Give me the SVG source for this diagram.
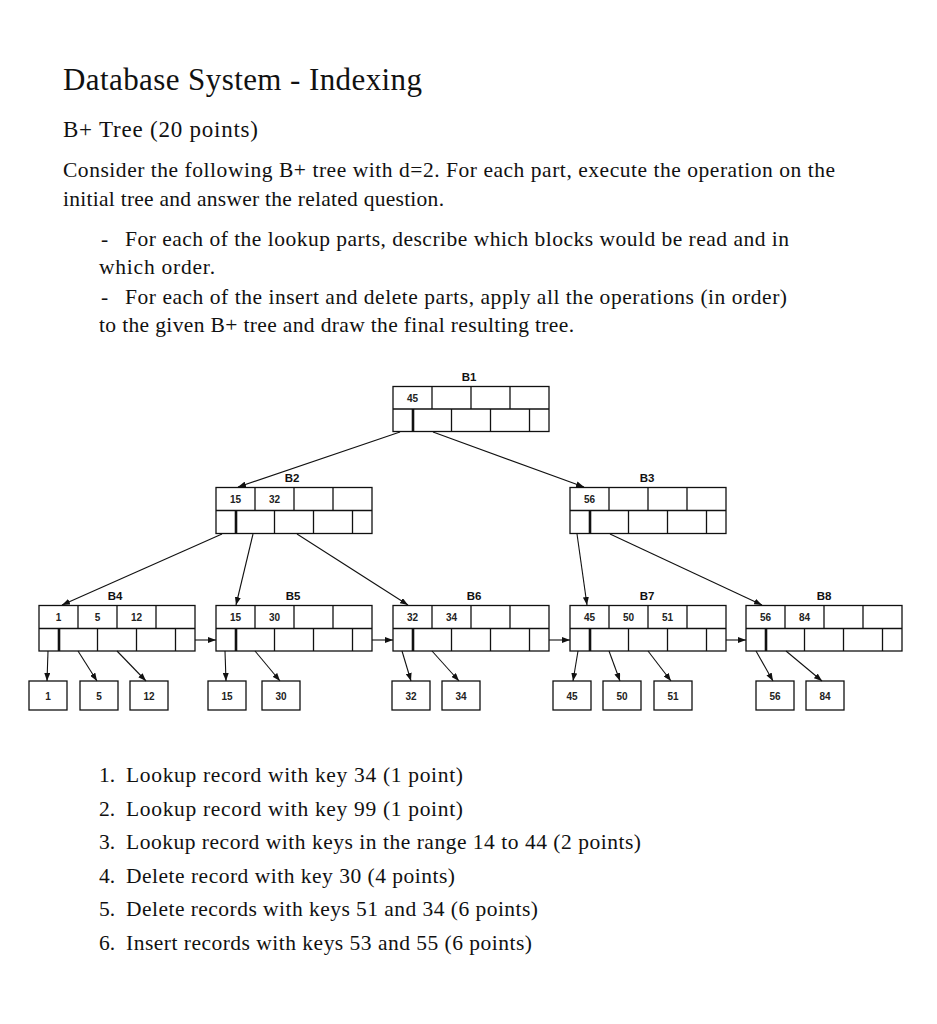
<svg xmlns="http://www.w3.org/2000/svg" width="937" height="1024" viewBox="0 0 937 1024">
<style>
.t{font-family:"Liberation Serif","Times New Roman",serif;fill:#111}
.h1{font-size:31px}
.h2{font-size:23px}
.p{font-size:21.5px}
.node rect{fill:#fff;stroke:#111;stroke-width:1.3}
.node line{stroke:#111;stroke-width:1.3}
.node line.th{stroke-width:2.6}
.key{font-family:"Liberation Sans",Arial,sans-serif;font-weight:bold;font-size:10px;text-anchor:middle;fill:#222}
.lbl{font-family:"Liberation Sans",Arial,sans-serif;font-weight:bold;font-size:11.5px;text-anchor:middle;fill:#111}
.rec rect{fill:#fff;stroke:#111;stroke-width:1.3}
#connectors line{stroke:#111;stroke-width:1.1;marker-end:url(#ah)}
</style>
<defs>
<marker id="ah" markerUnits="userSpaceOnUse" markerWidth="8" markerHeight="6" refX="8" refY="3" orient="auto">
<path d="M0,0 L8,3 L0,6 z" fill="#111"/>
</marker>
</defs>
<rect width="937" height="1024" fill="#fff"/>

<g id="text">
<text class="t h1" x="63" y="90" textLength="359">Database System - Indexing</text>
<text class="t h2" x="63" y="137" textLength="195">B+ Tree (20 points)</text>
<text class="t p" x="63" y="177" textLength="772">Consider the following B+ tree with d=2. For each part, execute the operation on the</text>
<text class="t p" x="63" y="206" textLength="381">initial tree and answer the related question.</text>
<text class="t p" x="101" y="246">-</text>
<text class="t p" x="125" y="246" textLength="664">For each of the lookup parts, describe which blocks would be read and in</text>
<text class="t p" x="99" y="274" textLength="116">which order.</text>
<text class="t p" x="101" y="304">-</text>
<text class="t p" x="125" y="304" textLength="662">For each of the insert and delete parts, apply all the operations (in order)</text>
<text class="t p" x="99" y="332" textLength="475">to the given B+ tree and draw the final resulting tree.</text>
<text class="t p" x="99" y="782">1.</text>
<text class="t p" x="126" y="782" textLength="337">Lookup record with key 34 (1 point)</text>
<text class="t p" x="99" y="816">2.</text>
<text class="t p" x="126" y="816" textLength="337">Lookup record with key 99 (1 point)</text>
<text class="t p" x="99" y="849">3.</text>
<text class="t p" x="126" y="849" textLength="515">Lookup record with keys in the range 14 to 44 (2 points)</text>
<text class="t p" x="99" y="883">4.</text>
<text class="t p" x="126" y="883" textLength="329">Delete record with key 30 (4 points)</text>
<text class="t p" x="99" y="916">5.</text>
<text class="t p" x="126" y="916" textLength="412">Delete records with keys 51 and 34 (6 points)</text>
<text class="t p" x="99" y="950">6.</text>
<text class="t p" x="126" y="950" textLength="406">Insert records with keys 53 and 55 (6 points)</text>
</g>

<g id="B1" class="node">
<text class="lbl" x="469" y="381">B1</text>
<rect x="393" y="386.5" width="156" height="45"/>
<line x1="393" y1="409" x2="549" y2="409"/>
<line x1="432" y1="386.5" x2="432" y2="409"/><line x1="471" y1="386.5" x2="471" y2="409"/><line x1="510" y1="386.5" x2="510" y2="409"/>
<line class="th" x1="413" y1="409" x2="413" y2="431.5"/><line x1="451.5" y1="409" x2="451.5" y2="431.5"/><line x1="490.5" y1="409" x2="490.5" y2="431.5"/><line x1="529.5" y1="409" x2="529.5" y2="431.5"/>
<text class="key" x="412.5" y="401.5">45</text>
</g>

<g id="B2" class="node">
<text class="lbl" x="292" y="482">B2</text>
<rect x="216" y="487.5" width="156" height="46"/>
<line x1="216" y1="510.5" x2="372" y2="510.5"/>
<line x1="255" y1="487.5" x2="255" y2="510.5"/><line x1="294" y1="487.5" x2="294" y2="510.5"/><line x1="333" y1="487.5" x2="333" y2="510.5"/>
<line class="th" x1="236" y1="510.5" x2="236" y2="533.5"/><line x1="274.5" y1="510.5" x2="274.5" y2="533.5"/><line x1="313.5" y1="510.5" x2="313.5" y2="533.5"/><line x1="352.5" y1="510.5" x2="352.5" y2="533.5"/>
<text class="key" x="235.5" y="503">15</text><text class="key" x="274.5" y="503">32</text>
</g>

<g id="B3" class="node">
<text class="lbl" x="647" y="482">B3</text>
<rect x="570" y="487.5" width="156" height="46"/>
<line x1="570" y1="510.5" x2="726" y2="510.5"/>
<line x1="609" y1="487.5" x2="609" y2="510.5"/><line x1="648" y1="487.5" x2="648" y2="510.5"/><line x1="687" y1="487.5" x2="687" y2="510.5"/>
<line class="th" x1="590" y1="510.5" x2="590" y2="533.5"/><line x1="628.5" y1="510.5" x2="628.5" y2="533.5"/><line x1="667.5" y1="510.5" x2="667.5" y2="533.5"/><line x1="706.5" y1="510.5" x2="706.5" y2="533.5"/>
<text class="key" x="589.5" y="503">56</text>
</g>

<g id="B4" class="node">
<text class="lbl" x="115" y="600">B4</text>
<rect x="39" y="605.5" width="156" height="45.5"/>
<line x1="39" y1="628.5" x2="195" y2="628.5"/>
<line x1="78" y1="605.5" x2="78" y2="628.5"/><line x1="117" y1="605.5" x2="117" y2="628.5"/><line x1="156" y1="605.5" x2="156" y2="628.5"/>
<line class="th" x1="59" y1="628.5" x2="59" y2="651"/><line x1="97.5" y1="628.5" x2="97.5" y2="651"/><line x1="136.5" y1="628.5" x2="136.5" y2="651"/><line x1="175.5" y1="628.5" x2="175.5" y2="651"/>
<text class="key" x="58.5" y="621">1</text><text class="key" x="97.5" y="621">5</text><text class="key" x="136.5" y="621">12</text>
</g>

<g id="B5" class="node">
<text class="lbl" x="293" y="600">B5</text>
<rect x="216" y="605.5" width="156" height="45.5"/>
<line x1="216" y1="628.5" x2="372" y2="628.5"/>
<line x1="255" y1="605.5" x2="255" y2="628.5"/><line x1="294" y1="605.5" x2="294" y2="628.5"/><line x1="333" y1="605.5" x2="333" y2="628.5"/>
<line class="th" x1="236" y1="628.5" x2="236" y2="651"/><line x1="274.5" y1="628.5" x2="274.5" y2="651"/><line x1="313.5" y1="628.5" x2="313.5" y2="651"/><line x1="352.5" y1="628.5" x2="352.5" y2="651"/>
<text class="key" x="235.5" y="621">15</text><text class="key" x="274.5" y="621">30</text>
</g>

<g id="B6" class="node">
<text class="lbl" x="474" y="600">B6</text>
<rect x="393" y="605.5" width="156" height="45.5"/>
<line x1="393" y1="628.5" x2="549" y2="628.5"/>
<line x1="432" y1="605.5" x2="432" y2="628.5"/><line x1="471" y1="605.5" x2="471" y2="628.5"/><line x1="510" y1="605.5" x2="510" y2="628.5"/>
<line class="th" x1="413" y1="628.5" x2="413" y2="651"/><line x1="451.5" y1="628.5" x2="451.5" y2="651"/><line x1="490.5" y1="628.5" x2="490.5" y2="651"/><line x1="529.5" y1="628.5" x2="529.5" y2="651"/>
<text class="key" x="412.5" y="621">32</text><text class="key" x="451.5" y="621">34</text>
</g>

<g id="B7" class="node">
<text class="lbl" x="647" y="600">B7</text>
<rect x="570" y="605.5" width="156" height="45.5"/>
<line x1="570" y1="628.5" x2="726" y2="628.5"/>
<line x1="609" y1="605.5" x2="609" y2="628.5"/><line x1="648" y1="605.5" x2="648" y2="628.5"/><line x1="687" y1="605.5" x2="687" y2="628.5"/>
<line class="th" x1="590" y1="628.5" x2="590" y2="651"/><line x1="628.5" y1="628.5" x2="628.5" y2="651"/><line x1="667.5" y1="628.5" x2="667.5" y2="651"/><line x1="706.5" y1="628.5" x2="706.5" y2="651"/>
<text class="key" x="589.5" y="621">45</text><text class="key" x="628.5" y="621">50</text><text class="key" x="667.5" y="621">51</text>
</g>

<g id="B8" class="node">
<text class="lbl" x="824" y="600">B8</text>
<rect x="746" y="605.5" width="156" height="45.5"/>
<line x1="746" y1="628.5" x2="902" y2="628.5"/>
<line x1="785" y1="605.5" x2="785" y2="628.5"/><line x1="824" y1="605.5" x2="824" y2="628.5"/><line x1="863" y1="605.5" x2="863" y2="628.5"/>
<line class="th" x1="766" y1="628.5" x2="766" y2="651"/><line x1="804.5" y1="628.5" x2="804.5" y2="651"/><line x1="843.5" y1="628.5" x2="843.5" y2="651"/><line x1="882.5" y1="628.5" x2="882.5" y2="651"/>
<text class="key" x="765.5" y="621">56</text><text class="key" x="804.5" y="621">84</text>
</g>

<g id="records">
<g id="R1" class="rec"><rect x="29" y="681" width="38" height="29"/><text class="key" x="48" y="699.5">1</text></g>
<g id="R5" class="rec"><rect x="80" y="681" width="38" height="29"/><text class="key" x="99" y="699.5">5</text></g>
<g id="R12" class="rec"><rect x="130" y="681" width="38" height="29"/><text class="key" x="149" y="699.5">12</text></g>
<g id="R15" class="rec"><rect x="208" y="681" width="38" height="29"/><text class="key" x="227" y="699.5">15</text></g>
<g id="R30" class="rec"><rect x="262" y="681" width="38" height="29"/><text class="key" x="281" y="699.5">30</text></g>
<g id="R32" class="rec"><rect x="392" y="681" width="38" height="29"/><text class="key" x="411" y="699.5">32</text></g>
<g id="R34" class="rec"><rect x="442" y="681" width="38" height="29"/><text class="key" x="461" y="699.5">34</text></g>
<g id="R45" class="rec"><rect x="553" y="681" width="38" height="29"/><text class="key" x="572" y="699.5">45</text></g>
<g id="R50" class="rec"><rect x="603" y="681" width="38" height="29"/><text class="key" x="622" y="699.5">50</text></g>
<g id="R51" class="rec"><rect x="654" y="681" width="38" height="29"/><text class="key" x="673" y="699.5">51</text></g>
<g id="R56" class="rec"><rect x="756" y="681" width="38" height="29"/><text class="key" x="775" y="699.5">56</text></g>
<g id="R84" class="rec"><rect x="806" y="681" width="38" height="29"/><text class="key" x="825" y="699.5">84</text></g>
</g>

<g id="connectors">
<line x1="400" y1="432" x2="238" y2="487"/>
<line x1="433" y1="432" x2="584" y2="487"/>
<line x1="222" y1="534" x2="62" y2="605"/>
<line x1="253" y1="534" x2="236" y2="605"/>
<line x1="297" y1="534" x2="408" y2="605"/>
<line x1="577" y1="534" x2="587" y2="605"/>
<line x1="610" y1="534" x2="762" y2="605"/>
<line x1="195" y1="640" x2="216" y2="640"/>
<line x1="372" y1="640" x2="393" y2="640"/>
<line x1="549" y1="640" x2="570" y2="640"/>
<line x1="726" y1="640" x2="746" y2="640"/>
<line x1="48" y1="651" x2="47" y2="681"/>
<line x1="78" y1="651" x2="97" y2="681"/>
<line x1="117" y1="651" x2="146" y2="681"/>
<line x1="225" y1="651" x2="226" y2="681"/>
<line x1="255" y1="651" x2="280" y2="681"/>
<line x1="402" y1="651" x2="411" y2="681"/>
<line x1="432" y1="651" x2="459" y2="681"/>
<line x1="578" y1="651" x2="573" y2="681"/>
<line x1="609" y1="651" x2="620" y2="681"/>
<line x1="648" y1="651" x2="671" y2="681"/>
<line x1="756" y1="651" x2="773" y2="681"/>
<line x1="786" y1="651" x2="822" y2="681"/>
</g>
</svg>
